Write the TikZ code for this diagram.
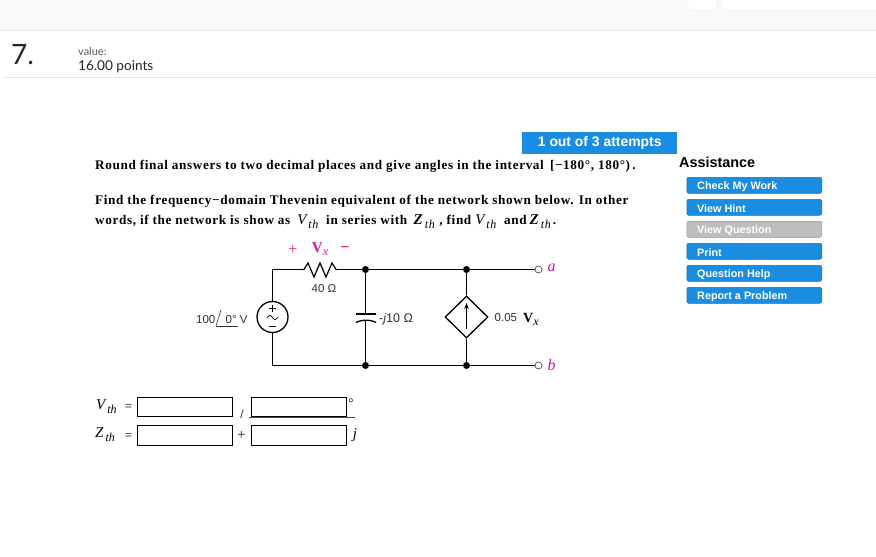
\documentclass[tikz,border=0pt]{standalone}
\usepackage{fontspec}
\setmainfont{Liberation Serif}
\setsansfont{Liberation Sans}
\newfontfamily\uifont{Lato}
\newfontfamily\prosefont[LetterSpace=4.8]{Liberation Serif}
\usetikzlibrary{arrows.meta,shapes.geometric}
\definecolor{btnblue}{HTML}{1B8DE0}
\definecolor{btngray}{HTML}{BEBEBE}
\definecolor{vxpink}{HTML}{D6198C}
\definecolor{headbg}{HTML}{F9F9F9}
\definecolor{headline}{HTML}{E8E8E8}
\newcommand{\pxfont}[1]{\fontsize{#1}{#1}\selectfont}
\newcommand{\thsub}{\raisebox{-4pt}{\pxfont{12}\itshape\mdseries\,th}}
\newcommand{\Vth}{{\pxfont{15}\itshape\mdseries V}\thsub}
\newcommand{\Zth}{{\pxfont{15}\itshape Z}\thsub}
\tikzset{
  wire/.style={line width=1.2pt,black},
  dot/.style={circle,fill=black,inner sep=0pt,minimum size=7pt},
  terminal/.style={circle,draw=black!70,fill=white,line width=0.7pt,inner sep=0pt,minimum size=7pt},
  prose/.style={anchor=west,inner sep=0pt,font=\prosefont\bfseries\pxfont{13.2}},
  circlabel/.style={inner sep=0pt,font=\sffamily\pxfont{11.5},text=black!80},
  pink/.style={inner sep=0pt,text=vxpink},
  answerbox/.style={draw=black,line width=0.7pt,fill=white,inner sep=0pt,minimum width=95pt,minimum height=19.5pt},
  helpbtn/.style={rounded corners=2pt,line width=0.5pt,anchor=north west,minimum width=135pt,minimum height=16pt,inner sep=0pt},
  helptext/.style={anchor=west,inner sep=0pt,text=white,font=\sffamily\bfseries\pxfont{10.8}},
}
\begin{document}
\begin{tikzpicture}[x=1pt,y=-1pt]
  \useasboundingbox (0,0) rectangle (876,557);
  \fill [white] (0,0) rectangle (876,557);
  % page header
  \fill [headbg] (0,0) rectangle (876,30);
  \draw [headline] (0,30) -- (876,30);
  \draw [headline] (2,77.5) -- (876,77.5);
  \draw [headline,fill=white,rounded corners=2pt] (688,-3) rectangle (717,10);
  \draw [headline,fill=white,rounded corners=2pt] (722,-3) rectangle (880,10);
  \node [anchor=west,inner sep=0pt,font=\uifont\pxfont{28},text=black!85] (qnum) at (11,55) {7.};
  \node [anchor=west,inner sep=0pt,font=\uifont\pxfont{11},text=black!65] (qvalue) at (78,51.5) {value:};
  \node [anchor=west,inner sep=0pt,font=\uifont\pxfont{13.6},text=black!85] (qpoints) at (78,66.5) {16.00 points};
  % attempts and question text
  \node [anchor=north west,fill=btnblue,minimum width=155pt,minimum height=22pt,inner sep=0pt,text=white,font=\sffamily\bfseries\pxfont{13.9}] (attempts) at (522,132) {1 out of 3 attempts};
  \node [prose] (round) at (95,166) {Round final answers to two decimal places and give angles in the interval\, [−180°, 180°)\,.};
  \node [prose] (find) at (95,201.5) {Find the frequency−domain Thevenin equivalent of the network shown below. In other};
  \node [prose] (words) at (95,222) {words, if the network is show as\hspace{3pt} \Vth\ \ in series with\hspace{2.5pt} \Zth\,\hspace{2.5pt}, find \Vth\ \ and\hspace{-1pt} \Zth\,.};
  % assistance panel
  \node [anchor=west,inner sep=0pt,font=\sffamily\bfseries\pxfont{14.4}] (assist) at (679,162) {Assistance};
  \foreach \name/\ytop/\shade/\lab in {check/177/btnblue/Check My Work,hint/199/btnblue/View Hint,view/221/btngray/View Question,print/243/btnblue/Print,help/265/btnblue/Question Help,report/287/btnblue/Report a Problem}{
    \node [helpbtn,fill=\shade,draw=\shade!80!black] (\name) at (686.5,\ytop) {};
    \node [helptext] (\name text) at (697,\ytop+9.5) {\lab};
  }
  % circuit
  \coordinate (tl) at (272.5,269.5);
  \coordinate (bl) at (272.5,365.5);
  \coordinate (rl) at (301,269.5);
  \coordinate (rr) at (338,269.5);
  \node [dot] (j1) at (365.5,269.5) {};
  \node [dot] (j2) at (466.5,269.5) {};
  \node [dot] (j3) at (365.5,365.5) {};
  \node [dot] (j4) at (466.5,365.5) {};
  \node [terminal] (a) at (538.5,269.5) {};
  \node [terminal] (b) at (538.5,365.5) {};
  \node [circle,draw=black,line width=1.3pt,fill=white,minimum size=31pt,inner sep=0pt] (vs) at (272.5,317) {};
  \node [diamond,draw=black,line width=1.3pt,minimum width=43pt,minimum height=42pt,inner sep=0pt] (cs) at (466.5,317) {};
  \coordinate (ct) at (365.5,314); % top plate
  \coordinate (cb) at (365.5,321); % curved plate
  \draw [wire] (vs) -- (tl) -- (rl);
  \draw [wire] (rl) -- ++(3,0) -- ++(4,-6.5) -- ++(6,14) -- ++(6,-14) -- ++(6,14) -- ++(6,-14) -- ++(4,6.5) -- (rr); % resistor
  \draw [wire] (rr) -- (j1) -- (j2) -- (a);
  \draw [wire] (vs) -- (bl) -- (j3) -- (j4) -- (b);
  \draw [wire] (j1) -- (ct);
  \draw [wire] (j3) -- (cb);
  \draw [wire,line width=1.3pt] (356,314) -- (376,314);
  \draw [wire,line width=1.3pt] (356,322.5) .. controls (361,319.5) and (371,319.5) .. (376,322.5);
  \draw [wire] (j2) -- (cs);
  \draw [wire] (cs) -- (j4);
  \draw [-{Stealth[length=6pt,width=4.5pt]},line width=0.8pt] (466.5,329) -- (466.5,303); % controlled current
  % source marks
  \draw [line width=0.9pt] (269,308.5) -- (276,308.5) (272.5,305) -- (272.5,312); % plus
  \draw [line width=0.7pt] (267,318) .. controls (269,314.5) and (271,315) .. (272.5,317.5) .. controls (274,320) and (276,320.5) .. (278,317); % wave
  \draw [line width=0.9pt] (269,326) -- (276,326); % minus
  % circuit labels
  \node [circlabel] (rlab) at (324,288.5) {40 Ω};
  \node [circlabel,anchor=west] (vlab) at (196,319.5) {100};
  \draw [black!80,line width=0.6pt] (216,326) -- (221,310);
  \draw [black!80,line width=0.6pt] (216,326) -- (238,326);
  \node [circlabel,anchor=west] (vang) at (225.5,319.5) {0° V};
  \node [circlabel,anchor=west,font=\sffamily\pxfont{12.5}] (clab) at (379,319.5) {-{\itshape j}10 Ω};
  \node [circlabel,anchor=west] (cslab) at (494.5,317.5) {0.05};
  \node [anchor=west,inner sep=0pt,font=\bfseries\pxfont{14}] (csv) at (523,319) {V\raisebox{-3pt}{\mdseries\itshape\pxfont{12}x}};
  \node [pink,font=\pxfont{16}] (vxp) at (293,249.5) {+};
  \node [pink,font=\bfseries\pxfont{15}] (vxn) at (320,249) {V\raisebox{-3pt}{\mdseries\itshape\pxfont{12}x}};
  \node [pink,font=\bfseries\pxfont{16}] (vxm) at (345,250) {−};
  \node [pink,anchor=west,font=\itshape\pxfont{16}] (alab) at (547.5,268) {a};
  \node [pink,anchor=west,font=\itshape\pxfont{16}] (blab) at (547.5,365) {b};
  % answer row
  \node [answerbox] (vmag) at (185,407) {};
  \node [answerbox] (vang2) at (299,407) {};
  \node [answerbox] (zre) at (185,435.3) {};
  \node [answerbox] (zim) at (299,435.3) {};
  \node [anchor=west,inner sep=0pt,font=\pxfont{13}] (vthl) at (96,406.5) {\Vth};
  \node [anchor=west,inner sep=0pt,font=\pxfont{13}] (zthl) at (95,435) {\Zth};
  \node [inner sep=0pt,font=\pxfont{13}] (veq) at (128.5,408) {=};
  \node [inner sep=0pt,font=\pxfont{13}] (zeq) at (128.5,437) {=};
  \draw [black!70,line width=0.8pt] (vang2.south west) ++(-2,0) -- ++(106,0);
  \node [inner sep=0pt,font=\sffamily\pxfont{12},text=black!80] (slash) at (242,414) {/};
  \node [inner sep=0pt,font=\sffamily\pxfont{14},text=black!70] (plus) at (241.5,435) {+};
  \node [inner sep=0pt,font=\pxfont{13}] (deg) at (351,403.5) {°};
  \node [inner sep=0pt,font=\itshape\pxfont{15}] (jlab) at (355,435) {j};
\end{tikzpicture}
\end{document}
